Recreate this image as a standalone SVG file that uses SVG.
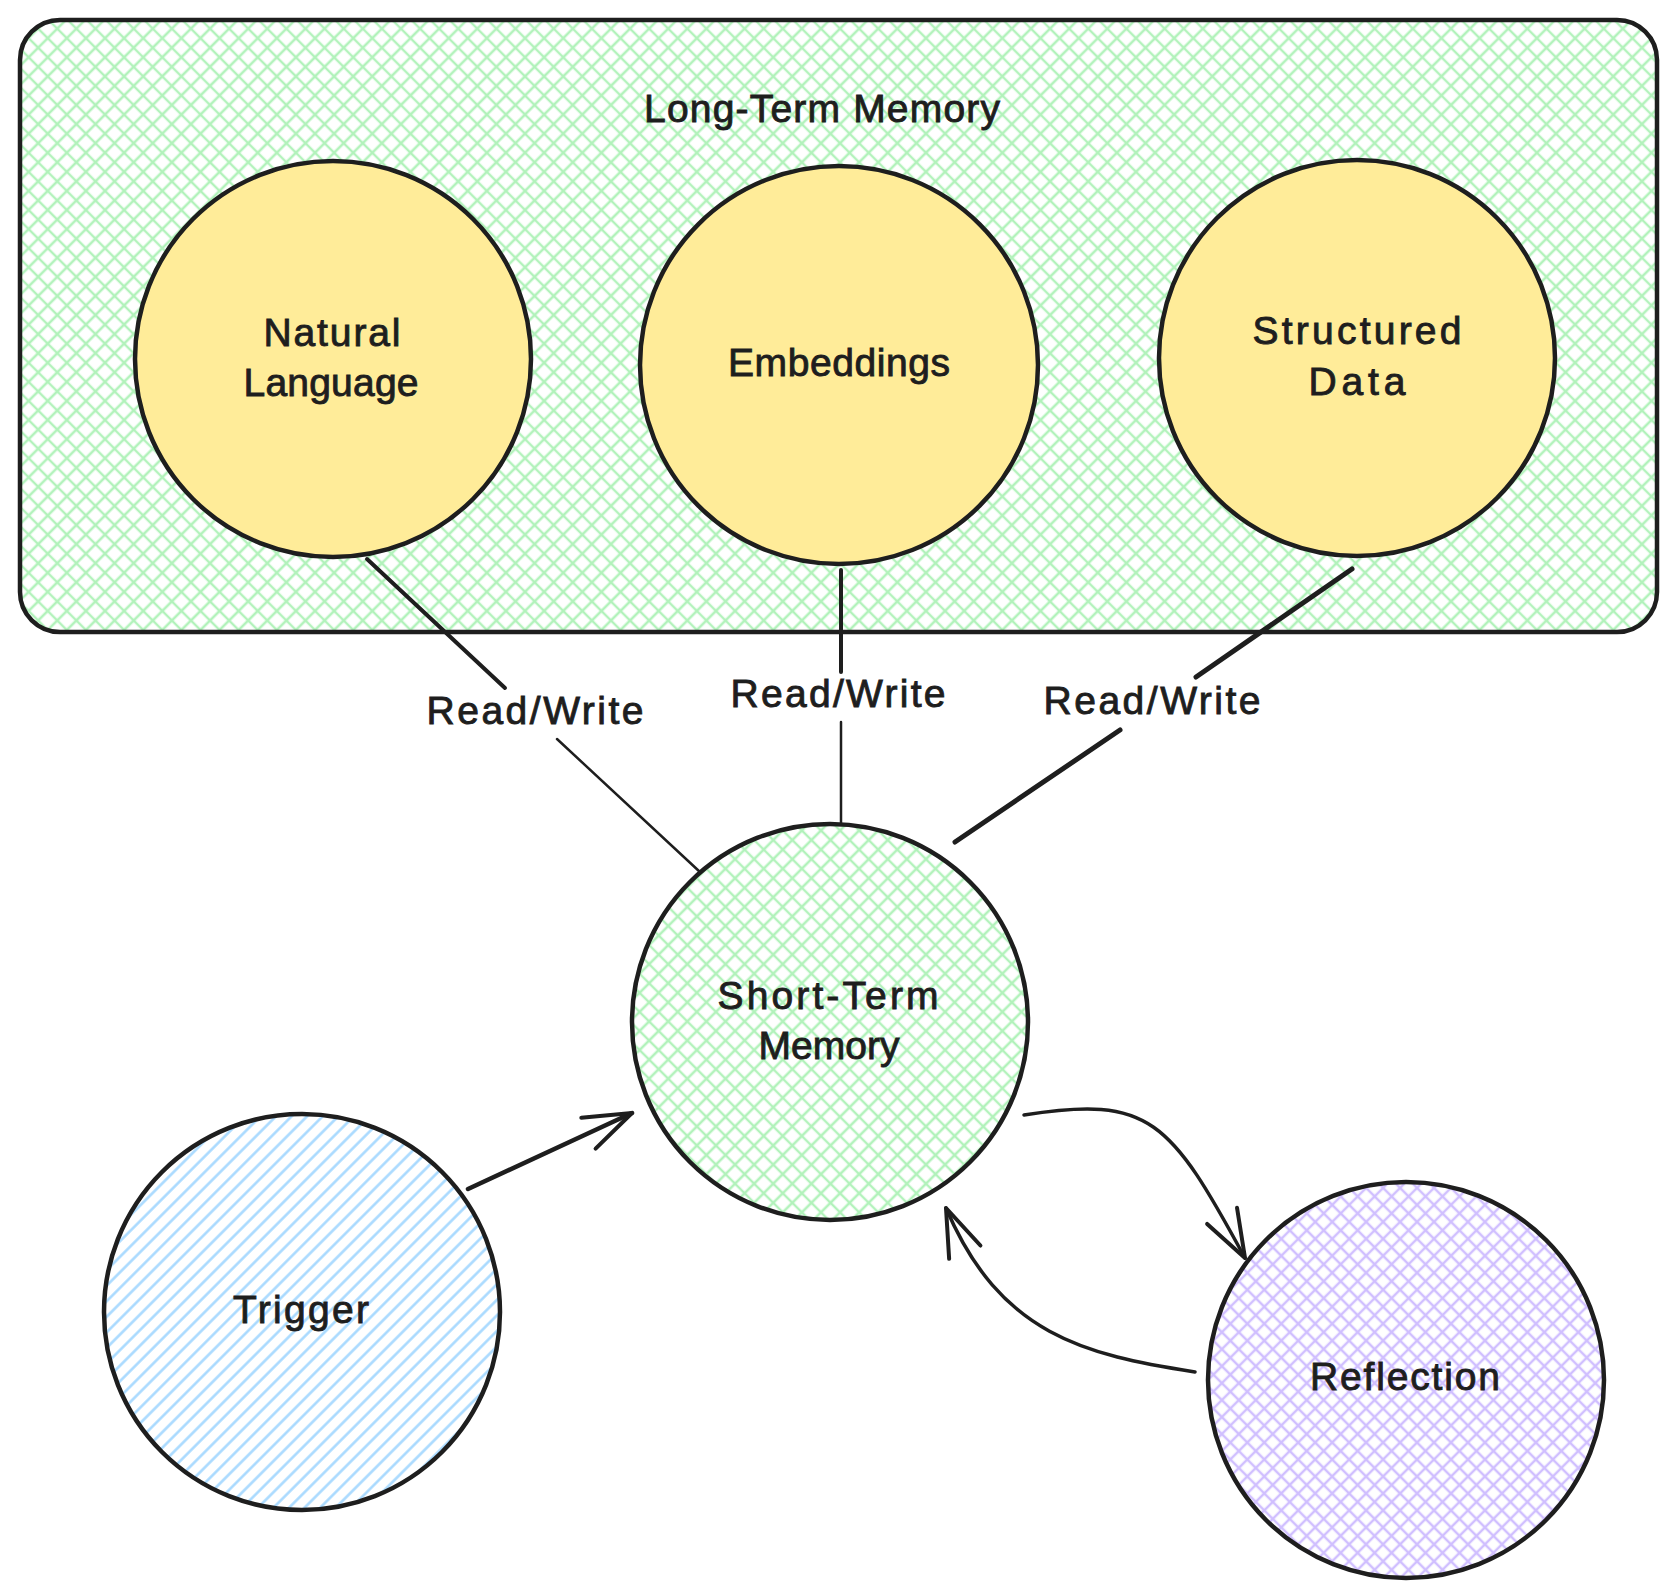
<svg xmlns="http://www.w3.org/2000/svg" width="1676" height="1596" viewBox="0 0 1676 1596">
  <defs>
    <pattern id="hx-green" width="13.5" height="13.5" patternUnits="userSpaceOnUse" patternTransform="rotate(45)">
      <path d="M6.75,0 V13.5 M0,6.75 H13.5" stroke="#b2f2bb" stroke-width="2.6" fill="none"/>
    </pattern>
    <pattern id="hx-violet" width="12" height="12" patternUnits="userSpaceOnUse" patternTransform="rotate(45)">
      <path d="M6,0 V12 M0,6 H12" stroke="#d0bfff" stroke-width="2.5" fill="none"/>
    </pattern>
    <pattern id="hx-blue" width="11" height="11" patternUnits="userSpaceOnUse" patternTransform="rotate(45)">
      <path d="M5.5,0 V11" stroke="#a5d8ff" stroke-width="2.5" fill="none"/>
    </pattern>
    <marker id="arrowhead" markerUnits="userSpaceOnUse" markerWidth="80" markerHeight="80" refX="0" refY="0" viewBox="-60 -40 80 80" orient="auto" overflow="visible">
      <path d="M-48,-17 L0,0 L-48,17" fill="none" stroke="#1e1e1e" stroke-width="4" stroke-linecap="round" stroke-linejoin="round"/>
    </marker>
    <style>
      .shape { stroke: #1e1e1e; stroke-width: 4.5; }
      .label { font-family: "Liberation Sans", Arial, sans-serif; font-size: 39px; fill: #1e1e1e; stroke: #1e1e1e; stroke-width: 0.9; text-anchor: middle; }
      .conn { stroke: #1e1e1e; fill: none; stroke-linecap: round; }
    </style>
  </defs>

  <rect width="1676" height="1596" fill="#ffffff"/>

  <g id="long-term-memory">
    <rect x="20" y="20" width="1637" height="612" rx="40" ry="40" fill="url(#hx-green)" class="shape"/>
    <text class="label" x="822" y="122" textLength="356">Long-Term Memory</text>
  </g>

  <g id="natural-language">
    <circle cx="333" cy="359" r="198" fill="#ffec99" class="shape"/>
    <text class="label" x="332" y="346" textLength="137">Natural</text>
    <text class="label" x="331" y="396" textLength="175">Language</text>
  </g>

  <g id="embeddings">
    <circle cx="839" cy="365" r="199" fill="#ffec99" class="shape"/>
    <text class="label" x="839" y="376" textLength="222">Embeddings</text>
  </g>

  <g id="structured-data">
    <circle cx="1357" cy="358" r="198" fill="#ffec99" class="shape"/>
    <text class="label" x="1357" y="344" textLength="209">Structured</text>
    <text class="label" x="1357" y="395" textLength="97">Data</text>
  </g>

  <g id="short-term-memory">
    <circle cx="830" cy="1022" r="198" fill="url(#hx-green)" class="shape"/>
    <text class="label" x="828" y="1009" textLength="221">Short-Term</text>
    <text class="label" x="829" y="1059">Memory</text>
  </g>

  <g id="trigger">
    <circle cx="302" cy="1312" r="198" fill="url(#hx-blue)" class="shape"/>
    <text class="label" x="301" y="1323" textLength="136">Trigger</text>
  </g>

  <g id="reflection">
    <circle cx="1406" cy="1380" r="198" fill="url(#hx-violet)" class="shape"/>
    <text class="label" x="1405" y="1390" textLength="190">Reflection</text>
  </g>

  <g id="connectors">
    <!-- Natural Language <-> Short-Term Memory -->
    <line class="conn" x1="367" y1="559" x2="505" y2="688" stroke-width="4"/>
    <line class="conn" x1="557" y1="739" x2="700" y2="872" stroke-width="2.5"/>
    <text class="label" x="535" y="724" textLength="217">Read/Write</text>

    <!-- Embeddings <-> Short-Term Memory -->
    <line class="conn" x1="841" y1="570" x2="841" y2="672" stroke-width="4"/>
    <line class="conn" x1="841" y1="722" x2="841" y2="823" stroke-width="2.5"/>
    <text class="label" x="838" y="707" textLength="215">Read/Write</text>

    <!-- Structured Data <-> Short-Term Memory -->
    <line class="conn" x1="1352" y1="569" x2="1196" y2="677" stroke-width="5"/>
    <line class="conn" x1="1120" y1="730" x2="955" y2="842" stroke-width="5"/>
    <text class="label" x="1152" y="714" textLength="217">Read/Write</text>

    <!-- Trigger -> Short-Term Memory -->
    <path class="conn" d="M468,1189 L632,1113" stroke-width="4.5" marker-end="url(#arrowhead)"/>

    <!-- Short-Term Memory -> Reflection -->
    <path class="conn" d="M1024,1115 C1150,1095 1170,1120 1245,1258" stroke-width="3.5" marker-end="url(#arrowhead)"/>

    <!-- Reflection -> Short-Term Memory -->
    <path class="conn" d="M1195,1372 C1085,1355 1000,1335 946,1208" stroke-width="3.5" marker-end="url(#arrowhead)"/>
  </g>
</svg>
